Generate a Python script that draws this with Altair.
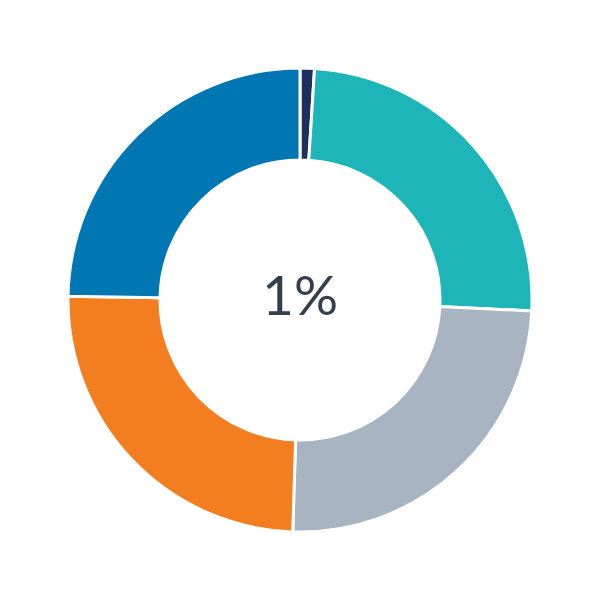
import altair as alt
import pandas as pd

categories = ["A", "B", "C", "D", "E"]
values = [1, 24.75, 24.75, 24.75, 24.75]
colors = ["#1c2f5e", "#1db5b8", "#a9b4c2", "#f37e20", "#0076b3"]
center_label = "1%"

df = pd.DataFrame({"cat": categories, "value": values, "order": list(range(len(values)))})

base = alt.Chart(df).encode(
    theta=alt.Theta("value:Q", stack=True),
    order=alt.Order("order:Q"),
    color=alt.Color("cat:N", scale=alt.Scale(domain=categories, range=colors), legend=None),
)
arcs = base.mark_arc(outerRadius=232, innerRadius=140, stroke="white", strokeWidth=3)

text = alt.Chart(pd.DataFrame({"t": [center_label]})).mark_text(
    font="Lato", fontSize=55, color="#333f4a", align="center", baseline="middle"
).encode(text="t:N", x=alt.value(292), y=alt.value(290))

chart = alt.layer(arcs, text).properties(
    width=584, height=584, padding=0, autosize=alt.AutoSizeParams(type="none")
).configure_view(stroke=None)

chart.save("out.html", embed_options={"renderer": "svg", "actions": False})
